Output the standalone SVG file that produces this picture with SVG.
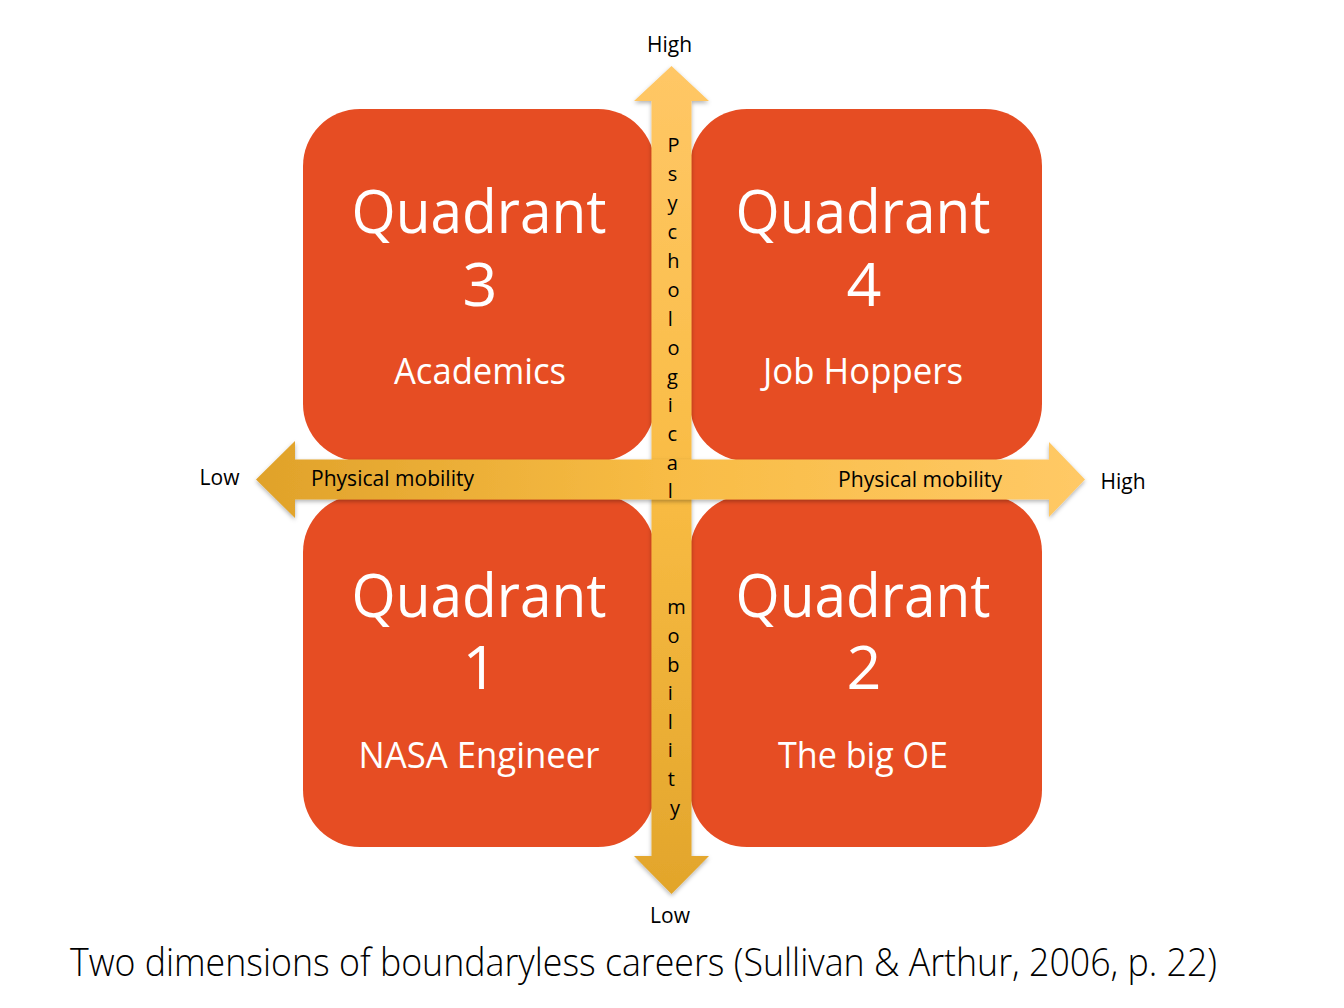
<svg xmlns="http://www.w3.org/2000/svg" width="1344" height="1008" viewBox="0 0 1344 1008">
  <style>
    .quad { fill: #E64D23; }
    .big { font-family: "Open Sans", "Liberation Sans", sans-serif; font-size: 61px; fill: #FFFFFF; text-anchor: middle; }
    .sub { font-family: "Open Sans", "Liberation Sans", sans-serif; font-size: 36px; fill: #FFFFFF; text-anchor: middle; }
    .lbl { font-family: "Open Sans", "Liberation Sans", sans-serif; font-size: 21px; fill: #000000; }
    .vlbl { font-family: "Open Sans", "Liberation Sans", sans-serif; font-size: 20px; fill: #000000; }
    .cap { font-family: "Open Sans", "Liberation Sans", sans-serif; font-size: 39px; font-weight: 300; fill: #000000; }
  </style>
  <defs>
    <linearGradient id="gH" x1="0" y1="0" x2="1" y2="0">
      <stop offset="0" stop-color="#E0A22A"/>
      <stop offset="0.5" stop-color="#F8BC45"/>
      <stop offset="1" stop-color="#FFC966"/>
    </linearGradient>
    <linearGradient id="gV" x1="0" y1="0" x2="0" y2="1">
      <stop offset="0" stop-color="#FFC766"/>
      <stop offset="0.5" stop-color="#F9BC44"/>
      <stop offset="1" stop-color="#E2A52B"/>
    </linearGradient>
    <filter id="sh" x="-5%" y="-10%" width="110%" height="130%">
      <feDropShadow dx="0" dy="2" stdDeviation="2" flood-color="#000000" flood-opacity="0.3"/>
    </filter>
  </defs>

  <g id="q3">
    <rect class="quad" x="303" y="109" width="352" height="352" rx="57" ry="57"/>
  </g>
  <g id="q4">
    <rect class="quad" x="690" y="109" width="352" height="352" rx="57" ry="57"/>
  </g>
  <g id="q1">
    <rect class="quad" x="303" y="495" width="352" height="352" rx="57" ry="57"/>
  </g>
  <g id="q2">
    <rect class="quad" x="690" y="495" width="352" height="352" rx="57" ry="57"/>
  </g>

  <g id="connectors">
    <polygon id="axis-psych" filter="url(#sh)" fill="url(#gV)" points="671.5,66 709,101 691.5,101 691.5,856 709,856 671.5,894 634,856 651.5,856 651.5,101 634,101"/>
    <polygon id="axis-phys" filter="url(#sh)" fill="url(#gH)" points="256,479.5 295,441 295,459.5 1049,459.5 1049,442 1085,479.5 1049,517 1049,499.5 295,499.5 295,518"/>
  </g>

  <g id="q3-text">
    <text class="big" x="479" y="233" textLength="255" lengthAdjust="spacingAndGlyphs">Quadrant</text>
    <text class="big" x="480" y="306">3</text>
    <text class="sub" x="480" y="384" textLength="172" lengthAdjust="spacingAndGlyphs">Academics</text>
  </g>
  <g id="q4-text">
    <text class="big" x="863" y="233" textLength="255" lengthAdjust="spacingAndGlyphs">Quadrant</text>
    <text class="big" x="864" y="306">4</text>
    <text class="sub" x="863" y="384" textLength="200" lengthAdjust="spacingAndGlyphs">Job Hoppers</text>
  </g>
  <g id="q1-text">
    <text class="big" x="479" y="617" textLength="255" lengthAdjust="spacingAndGlyphs">Quadrant</text>
    <text class="big" x="480" y="689">1</text>
    <text class="sub" x="479" y="768" textLength="241" lengthAdjust="spacingAndGlyphs">NASA Engineer</text>
  </g>
  <g id="q2-text">
    <text class="big" x="863" y="617" textLength="255" lengthAdjust="spacingAndGlyphs">Quadrant</text>
    <text class="big" x="864" y="689">2</text>
    <text class="sub" x="863" y="768" textLength="170" lengthAdjust="spacingAndGlyphs">The big OE</text>
  </g>

  <g id="axis-labels">
    <text class="lbl" x="311" y="486" textLength="163" lengthAdjust="spacingAndGlyphs">Physical mobility</text>
    <text class="lbl" x="838" y="487" textLength="164" lengthAdjust="spacingAndGlyphs">Physical mobility</text>
    <text class="lbl" x="669.5" y="52" text-anchor="middle">High</text>
    <text class="lbl" x="219.5" y="485" text-anchor="middle">Low</text>
    <text class="lbl" x="1123" y="489" text-anchor="middle">High</text>
    <text class="lbl" x="670" y="923" text-anchor="middle">Low</text>
    <text class="vlbl" text-anchor="middle">
      <tspan x="676" y="152">P</tspan>
      <tspan x="675" y="181">s</tspan>
      <tspan x="675" y="210">y</tspan>
      <tspan x="675" y="239">c</tspan>
      <tspan x="676" y="268">h</tspan>
      <tspan x="676" y="297">o</tspan>
      <tspan x="673" y="326">l</tspan>
      <tspan x="676" y="355">o</tspan>
      <tspan x="675" y="384">g</tspan>
      <tspan x="673" y="412">i</tspan>
      <tspan x="675" y="441">c</tspan>
      <tspan x="675" y="470">a</tspan>
      <tspan x="673" y="498">l</tspan>
      <tspan x="679" y="614">m</tspan>
      <tspan x="676" y="643">o</tspan>
      <tspan x="676" y="672">b</tspan>
      <tspan x="673" y="700">i</tspan>
      <tspan x="673" y="729">l</tspan>
      <tspan x="673" y="757">i</tspan>
      <tspan x="674" y="786">t</tspan>
      <tspan x="675" y="815">y</tspan>
    </text>
  </g>

  <g id="caption">
    <text class="cap" x="70" y="976" textLength="1147" lengthAdjust="spacingAndGlyphs">Two dimensions of boundaryless careers (Sullivan &amp; Arthur, 2006, p. 22)</text>
  </g>
</svg>
